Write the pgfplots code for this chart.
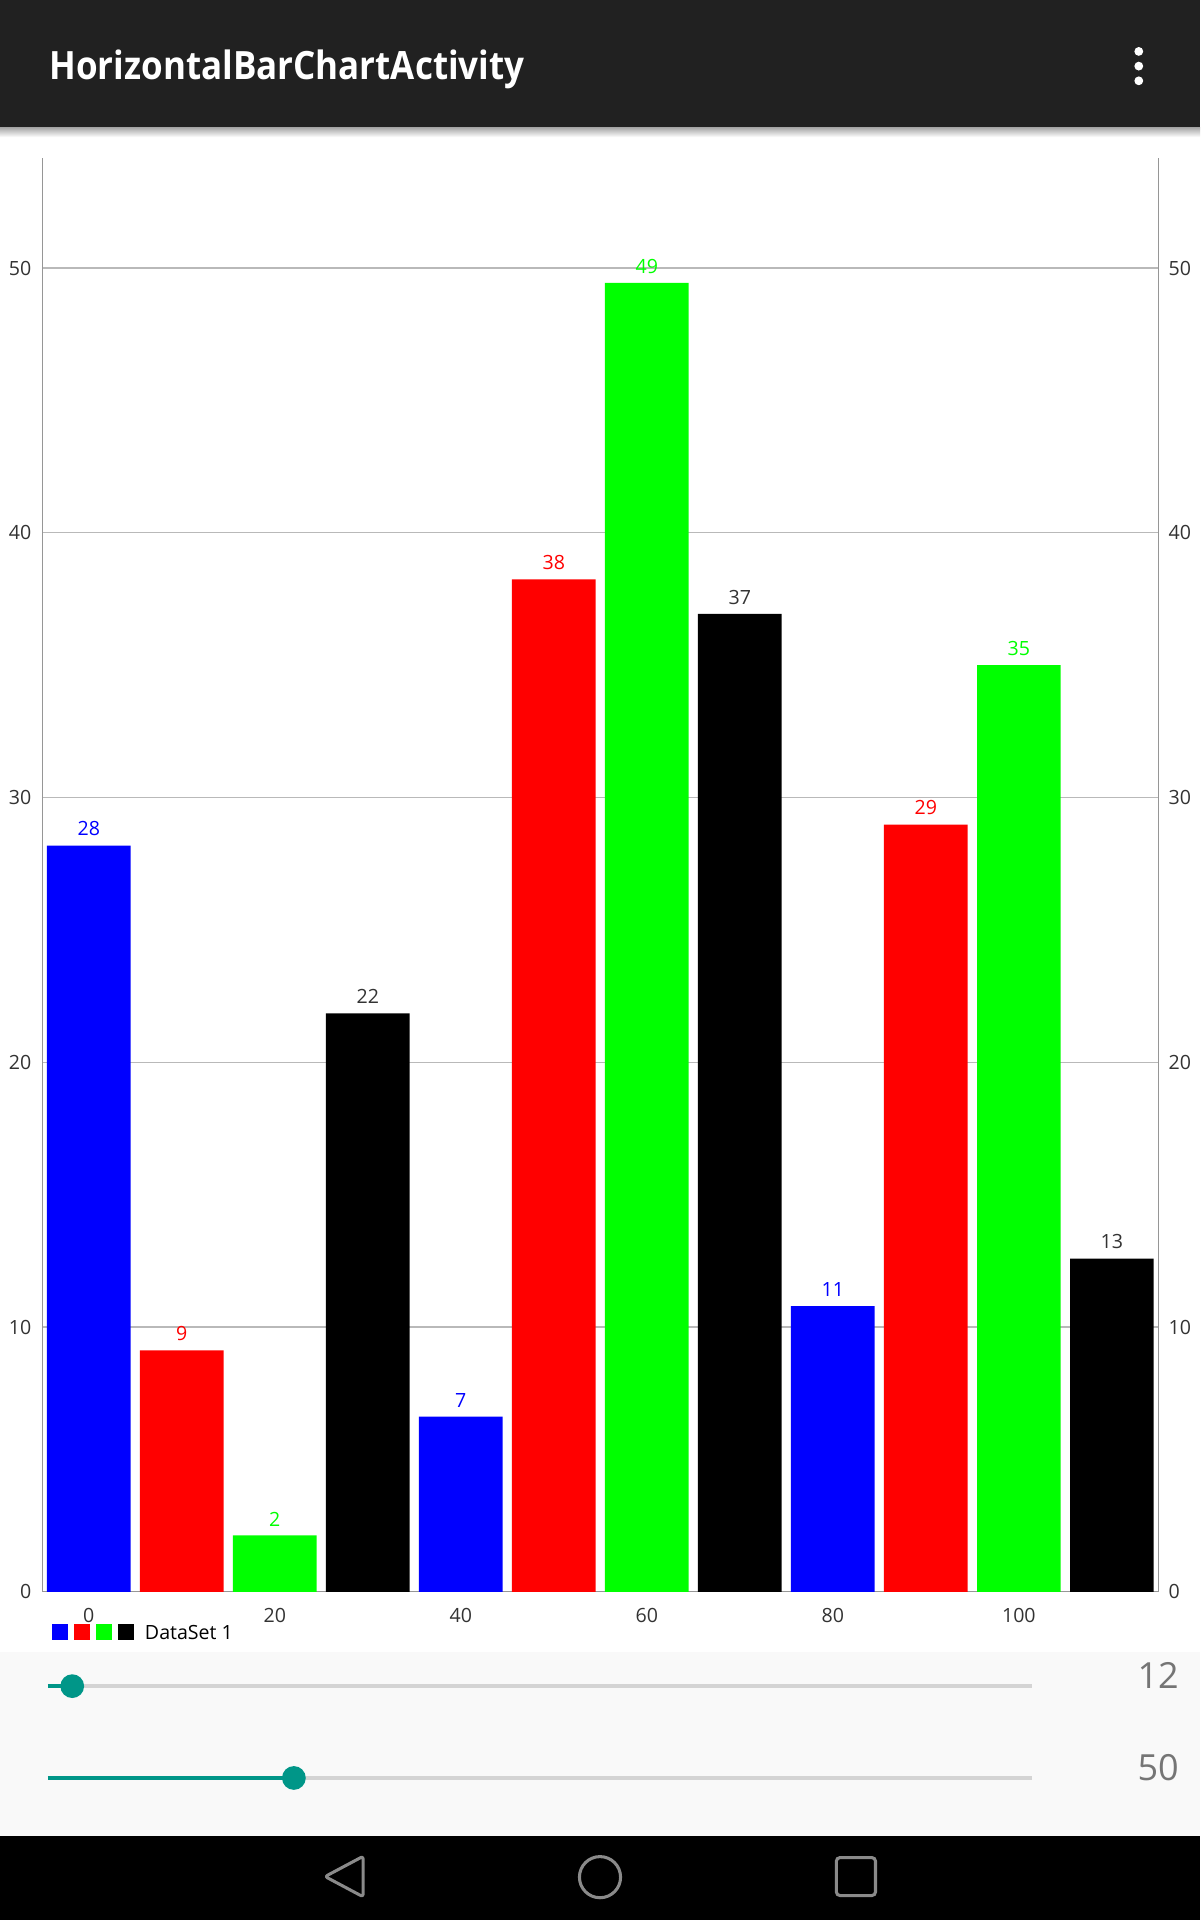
\documentclass[border=0pt]{standalone}
\usepackage{fontspec}
\setmainfont{Open Sans}
\usepackage{pgfplots}
\pgfplotsset{compat=1.18}
\definecolor{appbar}{HTML}{212121}
\definecolor{tealc}{HTML}{009688}
\definecolor{trackc}{HTML}{D4D4D4}
\definecolor{panelc}{HTML}{F9F9F9}
\definecolor{navicon}{HTML}{8A8A8A}
\definecolor{gridc}{RGB}{185,185,185}
\definecolor{axisc}{RGB}{150,150,150}
\definecolor{ticktext}{HTML}{333333}
\definecolor{numgray}{HTML}{757575}
\definecolor{cblue}{HTML}{0000FF}
\definecolor{cred}{HTML}{FF0000}
\definecolor{cgreen}{HTML}{00FF00}
\definecolor{cblack}{HTML}{000000}
\begin{document}
\begin{tikzpicture}[x=0.5pt,y=-0.5pt]
\fill[white] (0,0) rectangle (980,1568);
\useasboundingbox (0,0) rectangle (980,1568);
% app bar
\fill[appbar] (0,0) rectangle (980,104);
\shade[top color=black!35, bottom color=white] (0,104) rectangle (980,112);
\node[anchor=base west, inner sep=0pt, text=white] at (40,65.3) {\resizebox{194pt}{12.1pt}{\bfseries HorizontalBarChartActivity}};
\foreach \yy in {42,54,66} \fill[white] (930,\yy) circle[radius=3.6];
% bottom panel
\fill[panelc] (0,1349) rectangle (980,1499);
\fill[black] (0,1499) rectangle (980,1568);
% sliders
\draw[trackc, line width=1.65pt] (39,1377) -- (843,1377);
\draw[tealc, line width=1.65pt] (39,1377) -- (59,1377);
\fill[tealc] (59,1377) circle[radius=9.7];
\draw[trackc, line width=1.65pt] (39,1452) -- (843,1452);
\draw[tealc, line width=1.65pt] (39,1452) -- (240,1452);
\fill[tealc] (240,1452) circle[radius=9.7];
\node[anchor=base east, inner sep=0pt, text=numgray, font=\fontsize{14.7}{14.7}\selectfont] at (963,1378.6) {12};
\node[anchor=base east, inner sep=0pt, text=numgray, font=\fontsize{14.7}{14.7}\selectfont] at (963,1454) {50};
% nav icons
\draw[navicon, line width=1.25pt, line join=round, rounded corners=1pt] (296.5,1516) -- (265.5,1532.5) -- (296.5,1549) -- cycle;
\draw[navicon, line width=1.25pt] (490,1533) circle[radius=16.8];
\draw[navicon, line width=1.25pt, rounded corners=1.5pt] (683,1517) rectangle (715,1548);
% legend
\fill[cblue] (42.5,1326) rectangle (55.5,1339);
\fill[cred] (60.5,1326) rectangle (73.5,1339);
\fill[cgreen] (78.5,1326) rectangle (91.5,1339);
\fill[cblack] (96.5,1326) rectangle (109.5,1339);
\node[anchor=base west, inner sep=0pt, font=\fontsize{8}{8}\selectfont] at (118,1339) {DataSet 1};
% main axis
\begin{axis}[at={(17.25pt,-650pt)}, anchor=south west, scale only axis,
  width=455.75pt, height=585.5pt,
  xmin=-5, xmax=115, ymin=0, ymax=54.16,
  axis lines*=left, axis line style={axisc, line width=0.5pt},
  ymajorgrids, grid style={gridc, line width=0.5pt},
  xtick={0,20,...,100}, ytick={0,10,...,50},
  major tick length=0pt,
  tick label style={font=\fontsize{8}{8}\selectfont, text=ticktext},
  /pgf/number format/assume math mode=true,
  xticklabel style={anchor=north, inner sep=0pt, yshift=-6.5pt},
  yticklabel style={anchor=east, inner sep=0pt, xshift=-4.25pt},
  clip=false]
\addplot[ybar, bar width=9, bar shift=0pt, fill=cblue, draw=none, point meta=explicit symbolic, nodes near coords,
  every node near coord/.append style={text=cblue, anchor=south, inner sep=0pt, yshift=3.65pt, font=\fontsize{8}{8}\selectfont}]
  coordinates {(0,28.19)[28] (40,6.62)[7] (80,10.79)[11]};
\addplot[ybar, bar width=9, bar shift=0pt, fill=cred, draw=none, point meta=explicit symbolic, nodes near coords,
  every node near coord/.append style={text=cred, anchor=south, inner sep=0pt, yshift=3.65pt, font=\fontsize{8}{8}\selectfont}]
  coordinates {(10,9.12)[9] (50,38.24)[38] (90,28.98)[29]};
\addplot[ybar, bar width=9, bar shift=0pt, fill=cgreen, draw=none, point meta=explicit symbolic, nodes near coords,
  every node near coord/.append style={text=cgreen, anchor=south, inner sep=0pt, yshift=3.65pt, font=\fontsize{8}{8}\selectfont}]
  coordinates {(20,2.13)[2] (60,49.44)[49] (100,35.0)[35]};
\addplot[ybar, bar width=9, bar shift=0pt, fill=cblack, draw=none, point meta=explicit symbolic, nodes near coords,
  every node near coord/.append style={text=ticktext, anchor=south, inner sep=0pt, yshift=3.65pt, font=\fontsize{8}{8}\selectfont}]
  coordinates {(30,21.85)[22] (70,36.94)[37] (110,12.59)[13]};
\end{axis}
% right axis
\begin{axis}[at={(17.25pt,-650pt)}, anchor=south west, scale only axis,
  width=455.75pt, height=585.5pt,
  xmin=-5, xmax=115, ymin=0, ymax=54.16,
  axis x line=none, axis y line*=right, axis line style={axisc, line width=0.5pt},
  ytick={0,10,...,50}, major tick length=0pt,
  /pgf/number format/assume math mode=true,
  yticklabel style={anchor=west, inner sep=0pt, xshift=4pt, font=\fontsize{8}{8}\selectfont, text=ticktext}]
\addplot[draw=none] coordinates {(0,0)};
\end{axis}
\end{tikzpicture}
\end{document}
